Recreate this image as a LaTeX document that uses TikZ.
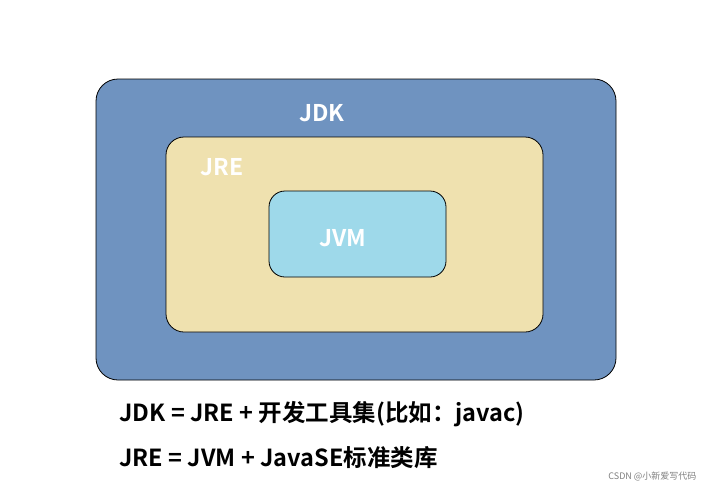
\documentclass[tikz,border=0pt]{standalone}
\usepackage{fontspec}
\setmainfont{Noto Sans CJK SC}[BoldFont={* Bold}]
\definecolor{jdk}{HTML}{6F93C0}
\definecolor{jre}{HTML}{EFE1AF}
\definecolor{jvm}{HTML}{9ED9EA}
\begin{document}
\begin{tikzpicture}[x=1pt,y=-1pt,
  box/.style={draw=black,line width=0.8pt,rounded corners=#1},
  lbl/.style={text=white,font=\bfseries\fontsize{23}{26}\selectfont},
  eq/.style={anchor=west,font=\bfseries\fontsize{23.5}{26}\selectfont}]
\useasboundingbox[fill=white] (0,0) rectangle (704,490);
\filldraw[box=22,fill=jdk] (96,79) rectangle (616,380);
\filldraw[box=18,fill=jre] (166,137) rectangle (543,332);
\filldraw[box=16,fill=jvm] (269,191) rectangle (446,277);
\node[lbl] (jdk) at (322,113) {JDK};
\node[lbl] (jre) at (222,167) {JRE};
\node[lbl] (jvm) at (343,238) {JVM};
\node[eq] (l1) at (116,414) {JDK = JRE + 开发工具集(比如：javac)};
\node[eq] (l2) at (116,458) {JRE = JVM + JavaSE标准类库};
\node[anchor=east,text=gray,font=\fontsize{9}{10}\selectfont] (wm) at (700,476) {CSDN @小新爱写代码};
\end{tikzpicture}
\end{document}
